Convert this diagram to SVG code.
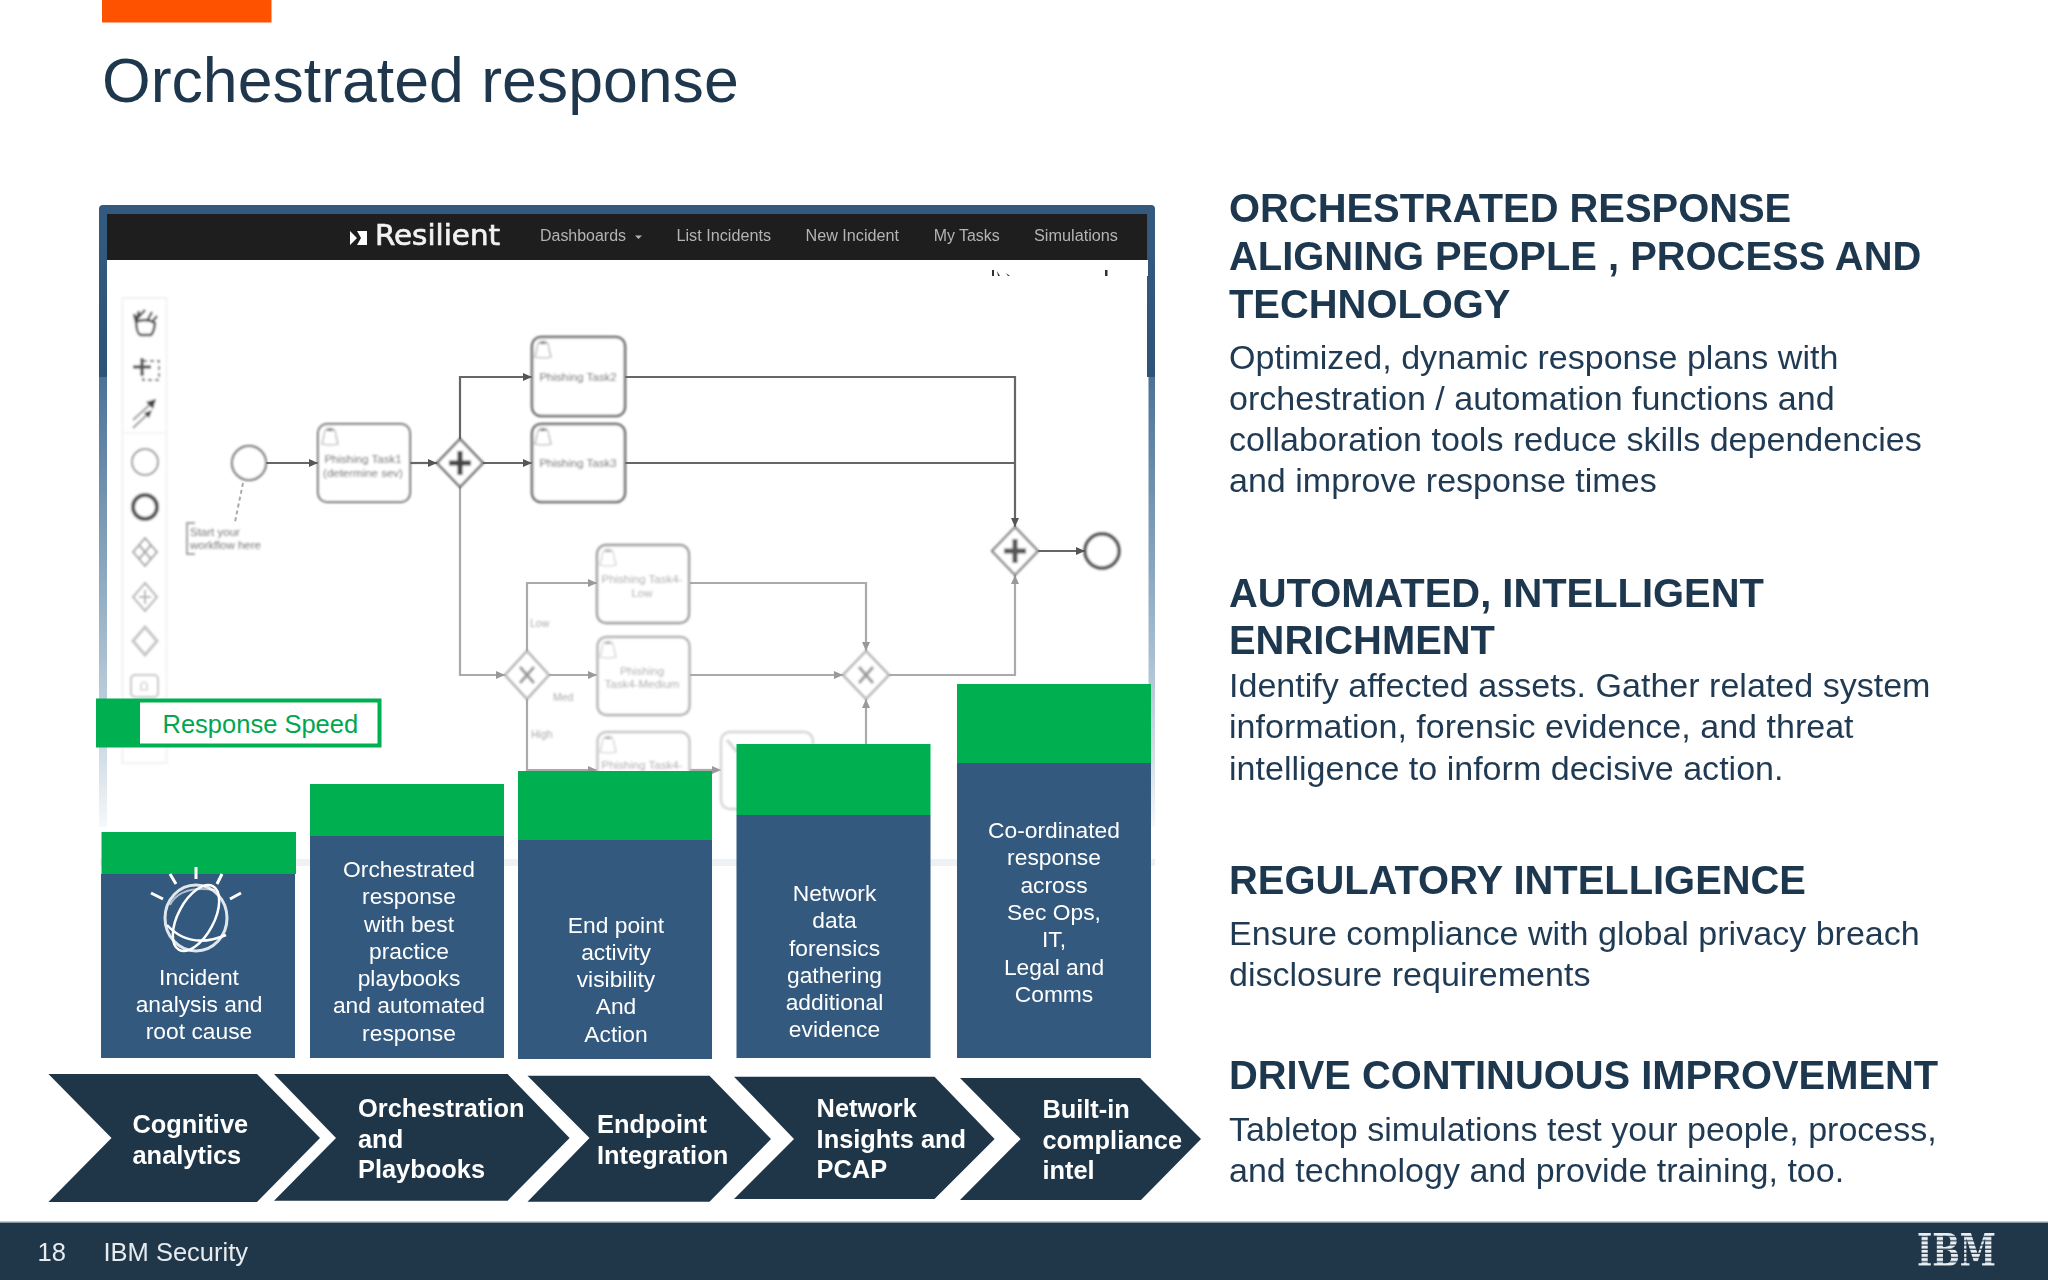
<svg xmlns="http://www.w3.org/2000/svg" width="2048" height="1280" viewBox="0 0 2048 1280">
<style>
text{font-family:"Liberation Sans",Arial,sans-serif}
.bar{fill:#33597e}.grn{fill:#00b050}
.bt{font-size:22.8px;fill:#fff;text-anchor:middle}
.cv{fill:#1f3649}
.ct{font-size:25.4px;font-weight:bold;fill:#fff}
.h{font-size:39.9px;font-weight:bold;fill:#1c374e}
.b{font-size:34.05px;fill:#1f3a52}
.nav{font-size:16px;fill:#b4b4b4}
.task{fill:#fff;stroke:#666;stroke-width:2.6}
.task2{fill:#fff;stroke:#b0b0b0;stroke-width:2.4}
.tt{font-size:11.5px;fill:#666;text-anchor:middle}
.tt2{font-size:11.5px;fill:#aaa;text-anchor:middle}
.gw{fill:#fff;stroke:#555;stroke-width:2.2}
.gw2{fill:#fff;stroke:#aaa;stroke-width:2.2}
.c1{fill:none;stroke:#666;stroke-width:2.2;marker-end:url(#a1)}
.c1n{fill:none;stroke:#666;stroke-width:2.2}
.c2{fill:none;stroke:#aaa;stroke-width:2.2;marker-end:url(#a2)}
.c2n{fill:none;stroke:#aaa;stroke-width:2}
.lbl{font-size:10.5px;fill:#aaa}
.ic{fill:none;stroke:#666;stroke-width:2}
.ic2{fill:none;stroke:#c4c4c4;stroke-width:2}
</style>
<defs>
<filter id="blur" filterUnits="userSpaceOnUse" x="0" y="0" width="2048" height="1280"><feGaussianBlur stdDeviation="0.9"/></filter>
<filter id="blurS" filterUnits="userSpaceOnUse" x="0" y="0" width="2048" height="1280"><feGaussianBlur stdDeviation="0.55"/></filter>
<marker id="a1" markerUnits="userSpaceOnUse" markerWidth="10" markerHeight="10" refX="9" refY="5" orient="auto"><path d="M0 1L9 5L0 9Z" fill="#555"/></marker>
<marker id="a2" markerUnits="userSpaceOnUse" markerWidth="10" markerHeight="10" refX="9" refY="5" orient="auto"><path d="M0 1L9 5L0 9Z" fill="#999"/></marker>
<linearGradient id="sideTop" x1="0" y1="0" x2="0" y2="1"><stop offset="0" stop-color="#33597e"/><stop offset="1" stop-color="#2d5478"/></linearGradient>
<linearGradient id="sideLow" x1="0" y1="0" x2="0" y2="1"><stop offset="0" stop-color="#4b7297"/><stop offset=".55" stop-color="#9db6ca"/><stop offset=".85" stop-color="#d3dfe8"/><stop offset="1" stop-color="#f6f8fa"/></linearGradient>
<pattern id="stripes" patternUnits="userSpaceOnUse" x="0" y="1233" width="10" height="4.2"><rect width="10" height="3" fill="#e8eef2"/></pattern>
<g id="user"><path d="M-6 -1Q-6 -9 0 -9Q6 -9 6 -1L8 7Q0 9 -8 7Z" fill="#fff" stroke="#aaa" stroke-width="1.2"/><path d="M-4 -6Q0 -10 4 -6Z" fill="#555"/></g>
<g id="user2"><path d="M-6 -1Q-6 -9 0 -9Q6 -9 6 -1L8 7Q0 9 -8 7Z" fill="#fff" stroke="#ccc" stroke-width="1.2"/><path d="M-4 -6Q0 -10 4 -6Z" fill="#999"/></g>
</defs>
<rect width="2048" height="1280" fill="#fff"/>
<rect x="102" y="0" width="169.500" height="22.500" fill="#ff5200"/>
<text x="102" y="101.500" font-size="62.600" fill="#1e374d">Orchestrated response</text>

<g id="screenshot-frame">
<rect x="99" y="205" width="1056" height="60" rx="4" fill="#33597e"/>
<rect x="99" y="240" width="8" height="137" fill="url(#sideTop)"/>
<rect x="99" y="377" width="8" height="450" fill="url(#sideLow)"/>
<rect x="1147" y="240" width="8" height="137" fill="url(#sideTop)"/>
<rect x="1148.500" y="377" width="6.500" height="450" fill="url(#sideLow)"/>
<rect x="100" y="859" width="1055" height="7" fill="#eef2f5"/>
<rect x="107" y="214" width="1040" height="46" fill="#1e1e1e"/>
<rect x="107" y="260" width="1041" height="16" fill="#fff"/>
</g>
<g id="navbar" filter="url(#blurS)">
<path d="M350 231L357 238L350 245Z M357 231H367V245H357L361 238Z" fill="#fff"/>
<text x="375" y="245" font-size="29" fill="#f2f2f2" stroke="#f2f2f2" stroke-width=".7" style="font-family:'DejaVu Sans',sans-serif" textLength="125" lengthAdjust="spacingAndGlyphs">Resilient</text>
<text class="nav" x="540" y="241" textLength="86" lengthAdjust="spacingAndGlyphs">Dashboards</text>
<path d="M635 235.500H642L638.500 239Z" fill="#b4b4b4"/>
<text class="nav" x="676.500" y="241" textLength="94.500" lengthAdjust="spacingAndGlyphs">List Incidents</text>
<text class="nav" x="805.500" y="241" textLength="93.500" lengthAdjust="spacingAndGlyphs">New Incident</text>
<text class="nav" x="933.700" y="241" textLength="66" lengthAdjust="spacingAndGlyphs">My Tasks</text>
<text class="nav" x="1034" y="241" textLength="84" lengthAdjust="spacingAndGlyphs">Simulations</text>
<path d="M992 270h2v6h-2z M997 271l3 5h-2z M1006 273l4 3h-2z M1105 270h2.500v6h-2.500z" fill="#333"/>
</g>

<g id="toolbar" filter="url(#blur)">
<rect x="122.500" y="298" width="44" height="465" fill="#fff" stroke="#f2f2f2" stroke-width="2"/>
<path d="M123 433H166" stroke="#f2f2f2" stroke-width="1.500"/>
<path d="M136 322L134 314M136 322L139 311M136 320L145 310M147 321L152 312M152 322L157 316M136 322Q137 335 141 335H151Q154 332 155 323Q150 320 145 320Q140 320 136 322Z" fill="none" stroke="#444" stroke-width="2.400"/>
<path d="M133 367H151M142 358V376" stroke="#444" stroke-width="3"/>
<rect x="143" y="361" width="16" height="19" fill="none" stroke="#666" stroke-width="1.800" stroke-dasharray="4 3"/>
<path d="M133 420L155 400M133 428L150 412" stroke="#999" stroke-width="2"/>
<path d="M146 402L156 399L153 409Z M144 413L152 410L149 418Z" fill="#444"/>
<circle cx="145" cy="462" r="13" fill="#fff" stroke="#999" stroke-width="2"/>
<circle cx="145" cy="507" r="12" fill="#fff" stroke="#555" stroke-width="4"/>
<path class="ic" d="M145 538L157 552L145 566L133 552Z M139 545L151 559M151 545L139 559" style="stroke:#aaa"/>
<path class="ic2" d="M145 583L157 597L145 611L133 597Z M145 590V604M139 597H151" style="stroke:#b5b5b5"/>
<path class="ic2" d="M145 627L157 641L145 655L133 641Z" style="stroke-width:3"/>
<rect x="131" y="675" width="27" height="22" rx="4" class="ic2"/>
<path class="ic2" d="M141 690V684Q144 680 147 684V690Z" style="stroke-width:1.200"/>
</g>

<g id="connectors" filter="url(#blurS)">
<path class="c1" d="M266 463H318"/>
<path class="c1" d="M410 463H437"/>
<path class="c1" d="M483 463H532"/>
<path class="c1" d="M460 439V377H532"/>
<path class="c1" d="M625 377H1015V527"/>
<path class="c1n" d="M625 463H1015"/>
<path class="c1" d="M1038 551H1085"/>
<path class="c2n" d="M243 483L235 522" stroke-dasharray="4 3"/>
<path class="c2" d="M460 487V675H505"/>
<path class="c2" d="M527 651V583H597"/>
<path class="c2" d="M549 675H597"/>
<path class="c2" d="M527 699V770H597"/>
<path class="c2" d="M689 770H721"/>
<path class="c2" d="M690 583H866V651"/>
<path class="c2" d="M690 675H843"/>
<path class="c2" d="M866 750V699"/>
<path class="c2" d="M889 675H1015V575"/>
</g>

<g filter="url(#blur)">
<g id="start-event"><circle cx="249" cy="463" r="17" fill="#fff" stroke="#666" stroke-width="2"/></g>
<g id="note"><path d="M195 523H187V554H195" fill="none" stroke="#888" stroke-width="1.500"/><text x="190" y="536" font-size="11.500" fill="#777">Start your</text><text x="190" y="549" font-size="11.500" fill="#777">workflow here</text></g>
<g id="task1"><rect class="task" x="318" y="424" width="92" height="78" rx="9" style="stroke-width:2"/><use href="#user" x="330" y="437"/><text class="tt" x="363" y="463">Phishing Task1</text><text class="tt" x="363" y="477">(determine sev)</text></g>
<g id="gateway-split"><path class="gw" d="M460 439L483 463L460 487L437 463Z"/><path d="M449 463H471M460 451V475" stroke="#444" stroke-width="5"/></g>
<g id="task2"><rect class="task" x="532" y="337" width="93" height="79" rx="9"/><use href="#user" x="543" y="350"/><text class="tt" x="578" y="381">Phishing Task2</text></g>
<g id="task3"><rect class="task" x="532" y="424" width="93" height="78" rx="9"/><use href="#user" x="543" y="437"/><text class="tt" x="578" y="467">Phishing Task3</text></g>
<g id="gateway-join"><path class="gw" d="M1015 527L1038 551L1015 575L992 551Z" style="stroke:#777"/><path d="M1004 551H1026M1015 539V563" stroke="#555" stroke-width="5"/></g>
<g id="end-event"><circle cx="1102" cy="551" r="17" fill="#fff" stroke="#555" stroke-width="3.500"/></g>
<g id="gateway-xor"><path class="gw2" d="M527 651L549 675L527 699L505 675Z"/><path d="M520 667L534 683M534 667L520 683" stroke="#999" stroke-width="3"/></g>
<g id="task4-low"><rect class="task2" x="597" y="545" width="92" height="78" rx="9" style="stroke:#999"/><use href="#user2" x="608" y="558"/><text class="tt2" x="642" y="583">Phishing Task4-</text><text class="tt2" x="642" y="597">Low</text></g>
<g id="task4-medium"><rect class="task2" x="597.500" y="637" width="92" height="78" rx="9"/><use href="#user2" x="608" y="650"/><text class="tt2" x="642" y="675">Phishing</text><text class="tt2" x="642" y="688">Task4-Medium</text></g>
<g id="task4-high"><rect class="task2" x="597.500" y="732" width="92" height="78" rx="9" style="stroke:#c4c4c4"/><use href="#user2" x="608" y="745"/><text class="tt2" x="642" y="769">Phishing Task4-</text></g>
<g id="task5"><rect class="task2" x="721" y="732" width="92" height="77" rx="9" style="stroke:#d4d4d4"/><path d="M727 740L737 752" stroke="#d4d4d4" stroke-width="3"/></g>
<g id="gateway-xor2"><path class="gw2" d="M866 651L889 675L866 699L843 675Z"/><path d="M859 667L873 683M873 667L859 683" stroke="#999" stroke-width="3"/></g>
<g id="labels"><text class="lbl" x="530" y="627">Low</text><text class="lbl" x="553" y="701">Med</text><text class="lbl" x="531" y="738">High</text></g>
</g>

<g id="response-speed">
<rect x="98" y="700.500" width="281.500" height="45" fill="#fff" stroke="#00b050" stroke-width="4"/>
<rect x="96.500" y="699" width="43.500" height="48" class="grn"/>
<text x="162.500" y="732.700" font-size="25.500" fill="#00a651">Response Speed</text>
</g>

<g id="bar1"><rect class="grn" x="101.500" y="832" width="194.500" height="42"/><rect class="bar" x="101" y="874" width="194" height="184"/>
<g id="watson" filter="url(#blurS)" fill="none" stroke="#fff"><path d="M196 867V879M170 874L176 884M222 874L217 884M151 893L163 899M241 893L230 899" stroke-width="3"/><ellipse cx="196" cy="918" rx="31" ry="33" stroke-width="3" opacity=".85"/><ellipse cx="196" cy="918" rx="18" ry="36" transform="rotate(28 196 918)" stroke-width="2.500"/><path d="M167 925Q190 950 226 935" stroke-width="2.500"/><path d="M170 905Q180 885 215 890" stroke-width="2" opacity=".6"/></g>
<text class="bt" x="199" y="985">Incident</text><text class="bt" x="199" y="1012">analysis and</text><text class="bt" x="199" y="1039">root cause</text></g>
<g id="bar2"><rect class="grn" x="310" y="784" width="194" height="52"/><rect class="bar" x="310" y="836" width="194" height="222"/>
<text class="bt" x="409" y="876.500">Orchestrated</text><text class="bt" x="409" y="904">response</text><text class="bt" x="409" y="931.500">with best</text><text class="bt" x="409" y="958.500">practice</text><text class="bt" x="409" y="986">playbooks</text><text class="bt" x="409" y="1013">and automated</text><text class="bt" x="409" y="1040.500">response</text></g>
<g id="bar3"><rect class="grn" x="518" y="771" width="194" height="69"/><rect class="bar" x="518" y="840" width="194" height="219"/>
<text class="bt" x="616" y="933">End point</text><text class="bt" x="616" y="960">activity</text><text class="bt" x="616" y="987">visibility</text><text class="bt" x="616" y="1014">And</text><text class="bt" x="616" y="1042">Action</text></g>
<g id="bar4"><rect class="grn" x="736.500" y="744" width="194" height="71"/><rect class="bar" x="736.500" y="815" width="194" height="243"/>
<text class="bt" x="834.500" y="901">Network</text><text class="bt" x="834.500" y="928">data</text><text class="bt" x="834.500" y="956">forensics</text><text class="bt" x="834.500" y="983">gathering</text><text class="bt" x="834.500" y="1010">additional</text><text class="bt" x="834.500" y="1037">evidence</text></g>
<g id="bar5"><rect class="grn" x="957" y="684" width="194" height="79"/><rect class="bar" x="957" y="763" width="194" height="295"/>
<text class="bt" x="1054" y="837.500">Co-ordinated</text><text class="bt" x="1054" y="865">response</text><text class="bt" x="1054" y="893">across</text><text class="bt" x="1054" y="920">Sec Ops,</text><text class="bt" x="1054" y="947">IT,</text><text class="bt" x="1054" y="975">Legal and</text><text class="bt" x="1054" y="1002">Comms</text></g>

<g id="chevron1"><path class="cv" d="M48.400 1074H257L320 1138L257 1202H48.400L111.500 1138Z"/><text class="ct" x="132.500" y="1132.500">Cognitive</text><text class="ct" x="132.500" y="1163.500">analytics</text></g>
<g id="chevron2"><path class="cv" d="M274 1074H507.600L569.600 1138L507.600 1200.700H274L336 1138Z"/><text class="ct" x="358" y="1116.500">Orchestration</text><text class="ct" x="358" y="1147.500">and</text><text class="ct" x="358" y="1178">Playbooks</text></g>
<g id="chevron3"><path class="cv" d="M527.500 1075.700H709.500L771 1139L709.500 1201.700H527.500L589.500 1138Z"/><text class="ct" x="597" y="1132.500">Endpoint</text><text class="ct" x="597" y="1163.500">Integration</text></g>
<g id="chevron4"><path class="cv" d="M734 1076.700H934.500L994.600 1139L934.500 1199H734L794 1139Z"/><text class="ct" x="816.600" y="1117">Network</text><text class="ct" x="816.600" y="1147.500">Insights and</text><text class="ct" x="816.600" y="1178">PCAP</text></g>
<g id="chevron5"><path class="cv" d="M960 1078H1140L1201 1139L1141 1200H960L1020.600 1139Z"/><text class="ct" x="1042.400" y="1118">Built-in</text><text class="ct" x="1042.400" y="1148.500">compliance</text><text class="ct" x="1042.400" y="1179">intel</text></g>

<g id="section1"><text class="h" x="1229" y="222">ORCHESTRATED RESPONSE</text><text class="h" x="1229" y="270">ALIGNING PEOPLE , PROCESS AND</text><text class="h" x="1229" y="318">TECHNOLOGY</text>
<text class="b" x="1229" y="369">Optimized, dynamic response plans with</text><text class="b" x="1229" y="410">orchestration / automation functions and</text><text class="b" x="1229" y="451">collaboration tools reduce skills dependencies</text><text class="b" x="1229" y="492">and improve response times</text></g>
<g id="section2"><text class="h" x="1229" y="607">AUTOMATED, INTELLIGENT</text><text class="h" x="1229" y="654">ENRICHMENT</text>
<text class="b" x="1229" y="697">Identify affected assets. Gather related system</text><text class="b" x="1229" y="738">information, forensic evidence, and threat</text><text class="b" x="1229" y="779.500">intelligence to inform decisive action.</text></g>
<g id="section3"><text class="h" x="1229" y="893.500">REGULATORY INTELLIGENCE</text>
<text class="b" x="1229" y="945">Ensure compliance with global privacy breach</text><text class="b" x="1229" y="986">disclosure requirements</text></g>
<g id="section4"><text class="h" x="1229" y="1089">DRIVE CONTINUOUS IMPROVEMENT</text>
<text class="b" x="1229" y="1141">Tabletop simulations test your people, process,</text><text class="b" x="1229" y="1181.500">and technology and provide training, too.</text></g>

<g id="footer"><rect x="0" y="1222" width="2048" height="58" fill="#203649"/><rect x="0" y="1221.500" width="2048" height="1.500" fill="#8497a6"/>
<text x="37.500" y="1261" font-size="25.500" fill="#e6ebef">18</text><text x="103.500" y="1261" font-size="25.500" fill="#e6ebef">IBM Security</text>
<text x="1917" y="1266" font-size="45" font-weight="bold" style="font-family:'DejaVu Serif',serif" fill="url(#stripes)" textLength="79" lengthAdjust="spacingAndGlyphs">IBM</text></g>
</svg>
